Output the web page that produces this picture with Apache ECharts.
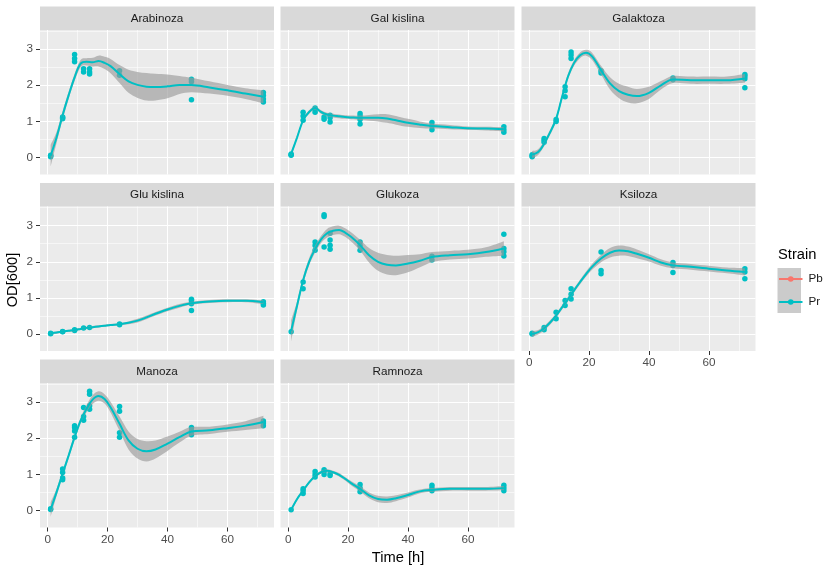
<!DOCTYPE html>
<html><head><meta charset="utf-8">
<script src="https://cdn.jsdelivr.net/npm/echarts@6/dist/echarts.min.js"></script>
<style>html,body{margin:0;padding:0;background:#fff}#c{width:838px;height:574px}</style>
</head><body><div id="c"></div>
<script>
// ---- data ----
const panelNames = ['Arabinoza','Gal kislina','Galaktoza','Glu kislina','Glukoza','Ksiloza','Manoza','Ramnoza'];
const times = [1, 5, 9, 12, 14, 24, 48, 72];
const xTicks = [0, 20, 40, 60];
const xMinor = [10, 30, 50, 70];
const yTicks = [0, 1, 2, 3];
const yMinor = [0.5, 1.5, 2.5, 3.5];
const fitT = [1,3,5,7,9,11,13,15,17,19,21,24,27,30,33,36,40,44,48,54,60,66,72];

const arabinozaPts = [[0.02,0.04,0.06],[1.07,1.1,1.12],[2.65,2.74,2.85],[2.37,2.46],[2.31,2.37,2.46],[2.28,2.4],[1.6,2.1,2.17],[1.54,1.62,1.72,1.8]];
const galKislinaPts = [[0.06,0.08,0.1],[1.03,1.15,1.25],[1.25,1.32,1.37],[1.06,1.12],[0.98,1.1,1.17],[0.93,1.05,1.15,1.22],[0.77,0.87,0.97],[0.7,0.77,0.85]];
const galaktozaPts = [[0.02,0.05,0.08],[0.42,0.48,0.53],[1.0,1.05],[1.68,1.85,1.96],[2.74,2.84,2.92],[2.34,2.4],[2.15,2.2],[1.93,2.18,2.25,2.3]];
const gluKislinaPts = [[0.01,0.02],[0.06,0.07],[0.1,0.12],[0.17],[0.18],[0.26,0.28],[0.65,0.84,0.92,0.96],[0.8,0.85,0.89]];
const glukozaPts = [[0.06],[1.25,1.44],[2.32,2.45,2.55],[2.41,3.25,3.3],[2.35,2.46,2.6,2.79],[2.32,2.45,2.55],[2.05,2.15],[2.16,2.28,2.37,2.76]];
const ksilozaPts = [[0.0,0.02],[0.12,0.18],[0.42,0.6],[0.79,0.93],[0.97,1.1,1.25],[1.67,1.76,2.27],[1.7,1.9,1.98],[1.53,1.72,1.81]];
const manozaPts = [[0.03,0.05],[0.85,0.9,1.05,1.15],[2.03,2.2,2.3,2.35],[2.5,2.6,2.85],[2.8,2.9,3.22,3.3],[2.03,2.15,2.75,2.88],[2.1,2.2,2.3],[2.35,2.42,2.48]];
const ramnozaPts = [[0.02],[0.47,0.55,0.6],[0.93,1.0,1.08],[1.0,1.08,1.13],[0.97,1.02],[0.52,0.62,0.72],[0.55,0.62,0.7],[0.55,0.62,0.7]];

const arabinozaFit = [0.05,0.56,1.17,1.72,2.22,2.6,2.65,2.64,2.67,2.62,2.53,2.31,2.11,2.01,1.96,1.95,1.97,2.01,2.01,1.94,1.86,1.77,1.68];
const arabinozaSe  = [0.3,0.15,0.12,0.1,0.1,0.1,0.1,0.12,0.15,0.17,0.2,0.25,0.32,0.36,0.38,0.37,0.33,0.25,0.2,0.17,0.15,0.15,0.18];
const galKislinaFit = [0.1,0.56,1.03,1.26,1.37,1.26,1.19,1.16,1.14,1.12,1.11,1.10,1.10,1.10,1.08,1.03,0.96,0.91,0.87,0.84,0.81,0.80,0.78];
const galKislinaSe  = [0.06,0.05,0.05,0.05,0.05,0.05,0.05,0.05,0.05,0.05,0.05,0.06,0.08,0.1,0.12,0.12,0.11,0.09,0.07,0.06,0.05,0.05,0.06];
const galaktozaFit = [0.08,0.15,0.38,0.7,1.07,1.68,2.25,2.62,2.83,2.9,2.8,2.42,2.05,1.84,1.74,1.70,1.79,2.0,2.16,2.14,2.14,2.14,2.19];
const galaktozaSe  = [0.1,0.08,0.07,0.07,0.07,0.08,0.08,0.08,0.08,0.08,0.1,0.12,0.17,0.2,0.22,0.2,0.17,0.12,0.1,0.1,0.1,0.1,0.12];
const gluKislinaFit = [0.02,0.04,0.07,0.09,0.11,0.14,0.17,0.19,0.21,0.23,0.25,0.27,0.31,0.37,0.46,0.56,0.68,0.78,0.85,0.9,0.92,0.92,0.88];
const gluKislinaSe  = [0.03,0.03,0.03,0.03,0.03,0.03,0.03,0.03,0.03,0.03,0.03,0.03,0.04,0.05,0.05,0.05,0.05,0.05,0.04,0.04,0.04,0.04,0.05];
const glukozaFit = [0.09,0.79,1.49,2.0,2.35,2.62,2.79,2.86,2.88,2.81,2.69,2.46,2.18,2.0,1.92,1.9,1.95,2.03,2.13,2.18,2.21,2.27,2.37];
const glukozaSe  = [0.3,0.12,0.1,0.1,0.1,0.1,0.12,0.12,0.12,0.12,0.13,0.15,0.2,0.25,0.27,0.27,0.24,0.18,0.14,0.12,0.12,0.13,0.2];
const ksilozaFit = [0.0,0.05,0.16,0.32,0.51,0.74,0.97,1.21,1.44,1.66,1.86,2.09,2.25,2.31,2.29,2.22,2.11,1.98,1.9,1.86,1.81,1.76,1.72];
const ksilozaSe  = [0.08,0.06,0.06,0.06,0.06,0.06,0.06,0.06,0.06,0.07,0.08,0.1,0.13,0.14,0.13,0.12,0.1,0.09,0.08,0.08,0.08,0.08,0.1];
const manozaFit = [0.03,0.51,1.02,1.52,2.03,2.49,2.82,3.07,3.17,3.09,2.86,2.4,1.94,1.71,1.64,1.69,1.85,2.03,2.19,2.22,2.28,2.35,2.45];
const manozaSe  = [0.2,0.1,0.08,0.08,0.08,0.08,0.1,0.12,0.13,0.13,0.15,0.2,0.25,0.27,0.28,0.25,0.2,0.15,0.12,0.1,0.1,0.12,0.17];
const ramnozaFit = [0.02,0.32,0.55,0.78,0.95,1.06,1.1,1.06,0.99,0.88,0.76,0.6,0.42,0.32,0.3,0.34,0.43,0.53,0.57,0.6,0.6,0.6,0.62];
const ramnozaSe  = [0.05,0.04,0.04,0.04,0.04,0.04,0.04,0.04,0.05,0.05,0.06,0.07,0.08,0.09,0.09,0.08,0.07,0.05,0.05,0.05,0.05,0.05,0.06];

const strains = ['Pb', 'Pr'];
const strainColors = ['#F8766D', '#00BFC4'];

// ---- layout ----
const panelPts = [arabinozaPts, galKislinaPts, galaktozaPts, gluKislinaPts, glukozaPts, ksilozaPts, manozaPts, ramnozaPts];
const panelFit = [arabinozaFit, galKislinaFit, galaktozaFit, gluKislinaFit, glukozaFit, ksilozaFit, manozaFit, ramnozaFit];
const panelSe  = [arabinozaSe, galKislinaSe, galaktozaSe, gluKislinaSe, glukozaSe, ksilozaSe, manozaSe, ramnozaSe];
const colLeft = [40, 280.5, 521.5], panelW = 234;
const stripTop = [6.5, 183, 359.5], stripH = 23.5, panelH = 144.5;
const FONT = '"Liberation Sans", Arial, sans-serif';
const X_MIN = -2.55, X_MAX = 75.55, Y_MIN = -0.47, Y_MAX = 3.53;
const bottomPanels = [5, 6, 7];

// Catmull-Rom spline through pixel points -> SVG path segments
function splineSeg(p, first) {
  let d = first ? 'M' + p[0][0] + ' ' + p[0][1] : 'L' + p[0][0] + ' ' + p[0][1];
  for (let k = 0; k < p.length - 1; k++) {
    const p0 = p[k - 1] || p[k], p1 = p[k], p2 = p[k + 1], p3 = p[k + 2] || p[k + 1];
    const t = 0.16;
    const c1 = [p1[0] + (p2[0] - p0[0]) * t, p1[1] + (p2[1] - p0[1]) * t];
    const c2 = [p2[0] - (p3[0] - p1[0]) * t, p2[1] - (p3[1] - p1[1]) * t];
    d += ' C' + c1[0] + ' ' + c1[1] + ' ' + c2[0] + ' ' + c2[1] + ' ' + p2[0] + ' ' + p2[1];
  }
  return d;
}

const grid = [], xAxis = [], yAxis = [], series = [], graphic = [];

panelNames.forEach((name, i) => {
  const r = Math.floor(i / 3), c = i % 3;
  const top = stripTop[r] + stripH;
  grid.push({left: colLeft[c], top: top, width: panelW, height: panelH, show: true,
    backgroundColor: '#EBEBEB', borderWidth: 0, containLabel: false});
  const showX = bottomPanels.includes(i), showY = c === 0;
  const lbl = {color: '#4D4D4D', fontSize: 11.7, fontFamily: FONT};
  xAxis.push({gridIndex: i, type: 'value', min: X_MIN, max: X_MAX, position: 'bottom',
    axisLine: {show: false, onZero: false},
    axisTick: {show: showX, length: 4, lineStyle: {color: '#333333', width: 1}, customValues: xTicks},
    axisLabel: Object.assign({show: showX, margin: 6, customValues: xTicks}, lbl),
    splitLine: {show: true, lineStyle: {color: '#FFFFFF', width: 1.1}}});
  xAxis.push({gridIndex: i, type: 'value', min: X_MIN, max: X_MAX, position: 'top',
    axisLine: {show: false, onZero: false}, axisTick: {show: false, customValues: xMinor},
    axisLabel: {show: false, customValues: xMinor},
    splitLine: {show: true, lineStyle: {color: '#FFFFFF', width: 0.55}}});
  yAxis.push({gridIndex: i, type: 'value', min: Y_MIN, max: Y_MAX, position: 'left',
    axisLine: {show: false, onZero: false},
    axisTick: {show: showY, length: 4, lineStyle: {color: '#333333', width: 1}, customValues: yTicks},
    axisLabel: Object.assign({show: showY, margin: 7, customValues: yTicks}, lbl),
    splitLine: {show: true, lineStyle: {color: '#FFFFFF', width: 1.1}}});
  yAxis.push({gridIndex: i, type: 'value', min: Y_MIN, max: Y_MAX, position: 'right',
    axisLine: {show: false, onZero: false}, axisTick: {show: false, customValues: yMinor},
    axisLabel: {show: false, customValues: yMinor},
    splitLine: {show: true, lineStyle: {color: '#FFFFFF', width: 0.55}}});

  const xi = 2 * i, yi = 2 * i;
  const pts = [];
  panelPts[i].forEach((vals, k) => vals.forEach(v => pts.push([times[k], v])));
  series.push({name: 'Pr points ' + name, type: 'scatter', xAxisIndex: xi, yAxisIndex: yi,
    data: pts, symbolSize: 5.5, itemStyle: {color: strainColors[1], opacity: 1}, z: 2, silent: true});

  const fit = panelFit[i], se = panelSe[i];
  const lower = fitT.map((t, k) => [t, fit[k] - se[k]]);
  const upper = fitT.map((t, k) => [t, fit[k] + se[k]]);
  series.push({name: 'Pr band ' + name, type: 'custom', xAxisIndex: xi, yAxisIndex: yi,
    data: [[fitT[0], fit[0]]], clip: true, z: 3, silent: true,
    renderItem: function (params, api) {
      const up = upper.map(p => api.coord(p));
      const lo = lower.slice().reverse().map(p => api.coord(p));
      const d = splineSeg(up, true) + ' ' + splineSeg(lo, false) + ' Z';
      return {type: 'path', shape: {pathData: d}, style: {fill: 'rgba(153,153,153,0.64)', stroke: null}};
    }});
  series.push({name: 'Pr fit ' + name, type: 'line', xAxisIndex: xi, yAxisIndex: yi,
    data: fitT.map((t, k) => [t, fit[k]]), symbol: 'none', smooth: 0.35,
    lineStyle: {color: strainColors[1], width: 2}, itemStyle: {color: strainColors[1]}, z: 4, silent: true});

  // strip
  graphic.push({type: 'rect', shape: {x: colLeft[c], y: stripTop[r], width: panelW, height: stripH},
    style: {fill: '#D9D9D9'}, z: 0, silent: true});
  graphic.push({type: 'text', x: colLeft[c] + panelW / 2, y: stripTop[r] + stripH / 2 + 0.5,
    style: {text: name, fill: '#1A1A1A', font: '11.7px ' + FONT, align: 'center', verticalAlign: 'middle',
      textAlign: 'center', textVerticalAlign: 'middle'}, z: 1, silent: true});
});

// legend-only series
strains.forEach((s, k) => {
  series.push({name: s, type: 'line', xAxisIndex: 0, yAxisIndex: 0, data: [], symbol: 'circle', symbolSize: 5,
    lineStyle: {color: strainColors[k], width: 2}, itemStyle: {color: strainColors[k]}});
});

// axis titles and legend title
graphic.push({type: 'text', x: 398, y: 558, style: {text: 'Time [h]', fill: '#000000', font: '14.7px ' + FONT,
  align: 'center', verticalAlign: 'middle', textAlign: 'center', textVerticalAlign: 'middle'}, silent: true});
graphic.push({type: 'text', x: 13, y: 280, rotation: Math.PI / 2, style: {text: 'OD[600]', fill: '#000000',
  font: '14.7px ' + FONT, align: 'center', verticalAlign: 'middle', textAlign: 'center', textVerticalAlign: 'middle'}, silent: true});
graphic.push({type: 'text', x: 778, y: 255, style: {text: 'Strain', fill: '#000000', font: '14.7px ' + FONT,
  align: 'left', verticalAlign: 'middle', textAlign: 'left', textVerticalAlign: 'middle'}, silent: true});
graphic.push({type: 'rect', shape: {x: 777.5, y: 268, width: 23.5, height: 45}, style: {fill: '#CBCBCB'}, silent: true});

const legendBase = {orient: 'vertical', left: 778, itemWidth: 23.5, itemHeight: 7, padding: 0, selectedMode: false,
  textStyle: {fontSize: 11.7, color: '#1A1A1A', fontFamily: FONT, lineHeight: 14, padding: [0, 0, 0, 1]}};
const legend = [
  Object.assign({data: ['Pb'], top: 272}, legendBase),
  Object.assign({data: ['Pr'], top: 295}, legendBase)
];

const chart = echarts.init(document.getElementById('c'), null, {renderer: 'canvas'});
chart.setOption({animation: false, backgroundColor: '#FFFFFF', grid, xAxis, yAxis, series, legend, graphic});
</script></body></html>
